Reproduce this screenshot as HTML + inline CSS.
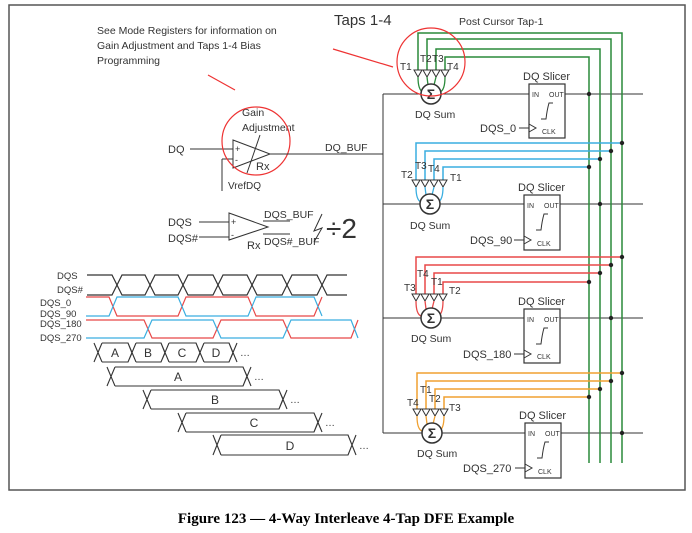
<!DOCTYPE html>
<html><head><style>
body{margin:0;background:#fff;}
svg{display:block;}
text{font-family:"Liberation Sans",sans-serif;fill:#333;}
</style></head><body>
<svg width="692" height="533" viewBox="0 0 692 533" xmlns="http://www.w3.org/2000/svg">
<rect x="9" y="5" width="676" height="485" fill="none" stroke="#555" stroke-width="1.5"/>
<text x="346" y="523" text-anchor="middle" style="font-family:'Liberation Serif',serif;font-weight:bold;font-size:15px;fill:#000">Figure 123 — 4-Way Interleave 4-Tap DFE Example</text>

<text x="97" y="34" font-size="10.5">See Mode Registers for information on</text>
<text x="97" y="49" font-size="10.5">Gain Adjustment and Taps 1-4 Bias</text>
<text x="97" y="64" font-size="10.5">Programming</text>
<line x1="208" y1="75" x2="235" y2="90" stroke="#e33" stroke-width="1.2"/>
<text x="334" y="25" font-size="15">Taps 1-4</text>
<line x1="333" y1="49" x2="393" y2="67" stroke="#e33" stroke-width="1.2"/>
<text x="459" y="25" font-size="10.5">Post Cursor Tap-1</text>

<text x="168" y="153" font-size="11">DQ</text>
<line x1="190" y1="149" x2="233" y2="149" stroke="#333"/>
<line x1="222" y1="159" x2="233" y2="159" stroke="#333"/>
<line x1="222" y1="159" x2="222" y2="191" stroke="#333"/>
<polygon points="233,140 233,168 270,154" fill="none" stroke="#333"/>
<text x="235" y="152" font-size="9">+</text><text x="235" y="163" font-size="9">-</text>
<line x1="247" y1="173" x2="260" y2="135" stroke="#333"/>
<text x="256" y="170" font-size="11">Rx</text>
<text x="228" y="189" font-size="10">VrefDQ</text>
<text x="242" y="116" font-size="10.5">Gain</text>
<text x="242" y="131" font-size="10.5">Adjustment</text>
<circle cx="256" cy="141" r="34" fill="none" stroke="#e33" stroke-width="1.2"/>
<line x1="270" y1="154" x2="383" y2="154" stroke="#333"/>
<text x="325" y="151" font-size="10.5">DQ_BUF</text>

<text x="168" y="226" font-size="11">DQS</text>
<text x="168" y="242" font-size="11">DQS#</text>
<line x1="199" y1="222" x2="229" y2="222" stroke="#333"/>
<line x1="199" y1="237" x2="229" y2="237" stroke="#333"/>
<polygon points="229,213 229,240 268,227" fill="none" stroke="#333"/>
<text x="231" y="225" font-size="9">+</text><text x="231" y="238" font-size="9">-</text>
<line x1="263" y1="221" x2="290" y2="221" stroke="#333"/>
<line x1="263" y1="234" x2="290" y2="234" stroke="#333"/>
<text x="264" y="218" font-size="10.5">DQS_BUF</text>
<text x="264" y="245" font-size="10.5">DQS#_BUF</text>
<text x="247" y="249" font-size="11">Rx</text>
<polyline points="322,214 314,231 322,228 314,242" fill="none" stroke="#333"/>
<text x="326" y="238" font-size="28">÷2</text>

<line x1="383" y1="94" x2="383" y2="433" stroke="#333"/>
<g stroke="#333" fill="none">
<line x1="383" y1="94" x2="643" y2="94"/>
<line x1="383" y1="204" x2="643" y2="204"/>
<line x1="383" y1="318" x2="643" y2="318"/>
<line x1="383" y1="433" x2="643" y2="433"/>
</g>

<g stroke="#2a8a3a" stroke-width="1.5" fill="none">
<polyline points="418,70 418,33 622,33 622,463"/>
<polyline points="427,70 427,39 611,39 611,463"/>
<polyline points="436,70 436,49 600,49 600,463"/>
<polyline points="445,70 445,57 589,57 589,463"/>
</g>
<g stroke="#3aaee0" stroke-width="1.5" fill="none">
<polyline points="416,180 416,143 622,143"/>
<polyline points="425,180 425,151 611,151"/>
<polyline points="434,180 434,159 600,159"/>
<polyline points="443,180 443,167 589,167"/>
</g>
<g stroke="#e84848" stroke-width="1.5" fill="none">
<polyline points="416,294 416,257 622,257"/>
<polyline points="425,294 425,265 611,265"/>
<polyline points="434,294 434,273 600,273"/>
<polyline points="443,294 443,282 589,282"/>
</g>
<g stroke="#f0a030" stroke-width="1.5" fill="none">
<polyline points="417,409 417,373 622,373"/>
<polyline points="426,409 426,381 611,381"/>
<polyline points="435,409 435,389 600,389"/>
<polyline points="444,409 444,397 589,397"/>
</g>
<g fill="#222">
<circle cx="589" cy="94" r="2.2"/><circle cx="622" cy="143" r="2.2"/><circle cx="611" cy="151" r="2.2"/><circle cx="600" cy="159" r="2.2"/><circle cx="589" cy="167" r="2.2"/>
<circle cx="600" cy="204" r="2.2"/>
<circle cx="622" cy="257" r="2.2"/><circle cx="611" cy="265" r="2.2"/><circle cx="600" cy="273" r="2.2"/><circle cx="589" cy="282" r="2.2"/>
<circle cx="611" cy="318" r="2.2"/>
<circle cx="622" cy="373" r="2.2"/><circle cx="611" cy="381" r="2.2"/><circle cx="600" cy="389" r="2.2"/><circle cx="589" cy="397" r="2.2"/>
<circle cx="622" cy="433" r="2.2"/>
</g>

<g fill="#fff" stroke="#333">
<polygon points="414,70 422,70 418,77"/><polygon points="423,70 431,70 427,77"/><polygon points="432,70 440,70 436,77"/><polygon points="441,70 449,70 445,77"/>
</g>
<g stroke="#2a8a3a" stroke-width="1.3" fill="none"><path d="M418,77 Q418,90 423,92"/><path d="M427,77 L428,85"/><path d="M436,77 L434,85"/><path d="M445,77 Q445,90 440,92"/></g>
<circle cx="431" cy="94" r="10" fill="#fff" stroke="#333" stroke-width="1.5"/><text x="431" y="99" font-size="14" font-weight="bold" text-anchor="middle" fill="#222">Σ</text>
<text x="415" y="118" font-size="10.5">DQ Sum</text>
<text x="400" y="70" font-size="10">T1</text><text x="420" y="62" font-size="10">T2</text><text x="432" y="62" font-size="10">T3</text><text x="447" y="70" font-size="10">T4</text>
<circle cx="431" cy="62" r="34" fill="none" stroke="#e33" stroke-width="1.2"/>

<g fill="#fff" stroke="#333">
<polygon points="412,180 420,180 416,187"/><polygon points="421,180 429,180 425,187"/><polygon points="430,180 438,180 434,187"/><polygon points="439,180 447,180 443,187"/>
<polygon points="412,294 420,294 416,301"/><polygon points="421,294 429,294 425,301"/><polygon points="430,294 438,294 434,301"/><polygon points="439,294 447,294 443,301"/>
<polygon points="413,409 421,409 417,416"/><polygon points="422,409 430,409 426,416"/><polygon points="431,409 439,409 435,416"/><polygon points="440,409 448,409 444,416"/>
</g>
<g stroke="#3aaee0" stroke-width="1.3" fill="none"><path d="M416,187 Q416,200 421,202"/><path d="M425,187 L426,195"/><path d="M434,187 L432,195"/><path d="M443,187 Q443,200 438,202"/></g>
<g stroke="#e84848" stroke-width="1.3" fill="none"><path d="M416,301 Q416,314 421,316"/><path d="M425,301 L426,309"/><path d="M434,301 L432,309"/><path d="M443,301 Q443,314 438,316"/></g>
<g stroke="#f0a030" stroke-width="1.3" fill="none"><path d="M417,416 Q417,429 422,431"/><path d="M426,416 L427,424"/><path d="M435,416 L433,424"/><path d="M444,416 Q444,429 439,431"/></g>
<g fill="#fff" stroke="#333" stroke-width="1.5">
<circle cx="430" cy="204" r="10"/><circle cx="431" cy="318" r="10"/><circle cx="432" cy="433" r="10"/>
</g>
<g font-size="14" font-weight="bold" text-anchor="middle">
<text x="430" y="209" fill="#222">Σ</text><text x="431" y="323" fill="#222">Σ</text><text x="432" y="438" fill="#222">Σ</text>
</g>
<g font-size="10.5">
<text x="410" y="229">DQ Sum</text><text x="411" y="342">DQ Sum</text><text x="417" y="457">DQ Sum</text>
</g>
<g font-size="10">
<text x="401" y="178">T2</text><text x="415" y="169">T3</text><text x="428" y="172">T4</text><text x="450" y="181">T1</text>
<text x="404" y="291">T3</text><text x="417" y="277">T4</text><text x="431" y="285">T1</text><text x="449" y="294">T2</text>
<text x="407" y="406">T4</text><text x="420" y="393">T1</text><text x="429" y="402">T2</text><text x="449" y="411">T3</text>
</g>

<g fill="#fff" stroke="#333" stroke-width="1.2">
<rect x="529" y="84" width="36" height="54"/>
<rect x="524" y="195" width="36" height="55"/>
<rect x="524" y="309" width="36" height="54"/>
<rect x="525" y="423" width="36" height="55"/>
</g>
<g font-size="7">
<text x="532" y="97">IN</text><text x="549" y="97">OUT</text><text x="542" y="134">CLK</text>
<text x="527" y="208">IN</text><text x="544" y="208">OUT</text><text x="537" y="246">CLK</text>
<text x="527" y="322">IN</text><text x="544" y="322">OUT</text><text x="537" y="359">CLK</text>
<text x="528" y="436">IN</text><text x="545" y="436">OUT</text><text x="538" y="474">CLK</text>
</g>
<g stroke="#333" fill="none">
<path d="M541,119 L546,119 Q547,110 549,103 L553,103"/>
<path d="M536,230 L541,230 Q542,221 544,214 L548,214"/>
<path d="M536,344 L541,344 Q542,335 544,328 L548,328"/>
<path d="M537,458 L542,458 Q543,449 545,442 L549,442"/>
<line x1="519" y1="128" x2="529" y2="128"/><polyline points="529,124 536,128 529,132"/>
<line x1="514" y1="240" x2="524" y2="240"/><polyline points="524,236 531,240 524,244"/>
<line x1="514" y1="354" x2="524" y2="354"/><polyline points="524,350 531,354 524,358"/>
<line x1="515" y1="468" x2="525" y2="468"/><polyline points="525,464 532,468 525,472"/>
</g>
<g font-size="11">
<text x="523" y="80">DQ Slicer</text><text x="518" y="191">DQ Slicer</text><text x="518" y="305">DQ Slicer</text><text x="519" y="419">DQ Slicer</text>
<text x="480" y="132">DQS_0</text><text x="470" y="244">DQS_90</text><text x="463" y="358">DQS_180</text><text x="463" y="472">DQS_270</text>
</g>

<g font-size="9.5">
<text x="57" y="279">DQS</text><text x="57" y="293">DQS#</text>
<text x="40" y="306">DQS_0</text><text x="40" y="317">DQS_90</text>
<text x="40" y="327">DQS_180</text><text x="40" y="341">DQS_270</text>
</g>
<g stroke="#333" fill="none" stroke-width="1.2">
<polyline points="87,275 112,275 122,295 145,295 155,275 178,275 188,295 213,295 223,275 247,275 257,295 282,295 292,275 317,275 327,295 347,295"/>
<polyline points="87,295 112,295 122,275 145,275 155,295 178,295 188,275 213,275 223,295 247,295 257,275 282,275 292,295 317,295 327,275 347,275"/>
</g>
<g stroke="#e84848" fill="none" stroke-width="1.2">
<polyline points="86,297 109,297 117,316 178,316 186,297 248,297 256,316 314,316 322,297"/>
<polyline points="86,320 144,320 152,338 213,338 221,320 283,320 291,338 351,338 358,320"/>
</g>
<g stroke="#3aaee0" fill="none" stroke-width="1.2">
<polyline points="86,316 109,316 117,297 178,297 186,316 248,316 256,297 314,297 322,316"/>
<polyline points="86,338 144,338 152,320 213,320 221,338 283,338 291,320 351,320 358,338"/>
</g>
<g stroke="#333" fill="none" stroke-width="1.1">
<path d="M94,343 L102,362 M102,343 L94,362 M102,343 H128 L132,353 L128,362 H102 M128,343 L136,362 M136,343 L128,362"/>
<path d="M136,343 H161 L165,353 L161,362 H136 M161,343 L169,362 M169,343 L161,362 M169,343 H196 L200,353 L196,362 H169 M196,343 L204,362 M204,343 L196,362 M204,343 H229 L233,353 L229,362 H204 M229,343 L237,362 M237,343 L229,362"/>
<path d="M107,367 L115,386 M115,367 L107,386 M115,367 H243 L247,376 L243,386 H115 M243,367 L251,386 M251,367 L243,386"/>
<path d="M143,390 L151,409 M151,390 L143,409 M151,390 H279 L283,399 L279,409 H151 M279,390 L287,409 M287,390 L279,409"/>
<path d="M178,413 L186,432 M186,413 L178,432 M186,413 H314 L318,422 L314,432 H186 M314,413 L322,432 M322,413 L314,432"/>
<path d="M213,435 L221,455 M221,435 L213,455 M221,435 H348 L352,445 L348,455 H221 M348,435 L356,455 M356,435 L348,455"/>
</g>
<g font-size="12" text-anchor="middle">
<text x="115" y="357">A</text><text x="148" y="357">B</text><text x="182" y="357">C</text><text x="216" y="357">D</text>
<text x="178" y="381">A</text><text x="215" y="404">B</text><text x="254" y="427">C</text><text x="290" y="450">D</text>
</g>
<g font-size="10">
<text x="240" y="356">…</text><text x="254" y="380">…</text><text x="290" y="403">…</text><text x="325" y="426">…</text><text x="359" y="449">…</text>
</g>
</svg>
</body></html>
